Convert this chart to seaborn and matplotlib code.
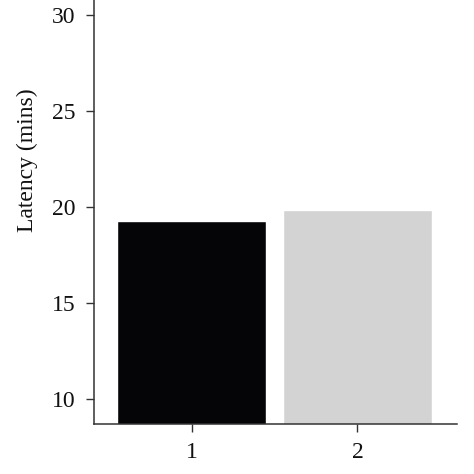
import pandas as pd
import seaborn as sns
import matplotlib
matplotlib.use("Agg")
import matplotlib.pyplot as plt

groups = ["1", "2"]
latency = [19.27, 19.84]
bar_colors = ["#050507", "#d3d3d3"]

df = pd.DataFrame({"Group": groups, "Latency": latency})

sns.set_style("ticks")
plt.rcParams["font.family"] = ["Liberation Serif", "DejaVu Serif"]
plt.rcParams["text.color"] = "#111111"
plt.rcParams["axes.labelcolor"] = "#111111"
plt.rcParams["xtick.labelcolor"] = "#111111"
plt.rcParams["ytick.labelcolor"] = "#111111"

fig = plt.figure(figsize=(4.74, 4.74), dpi=100)
ax = fig.add_axes([0.198, 0.1055, 0.766, 0.8945])
sns.barplot(data=df, x="Group", y="Latency", hue="Group", palette=bar_colors,
            width=0.9, legend=False, ax=ax, saturation=1)

ax.set_ylim(8.7, 30.8)
ax.set_xlim(-0.59, 1.6)
ax.set_yticks([10, 15, 20, 25, 30])
ax.set_xlabel("")
ax.set_ylabel("Latency (mins)", fontsize=17)
ax.yaxis.set_label_coords(-0.155, 0.623)
ax.tick_params(labelsize=17, length=6, width=1, color="#333333", pad=7)
for s in ["top", "right"]:
    ax.spines[s].set_visible(False)
for s in ["left", "bottom"]:
    ax.spines[s].set_color("#333333")
    ax.spines[s].set_linewidth(1.1)

fig.savefig("out.png", dpi=100)
